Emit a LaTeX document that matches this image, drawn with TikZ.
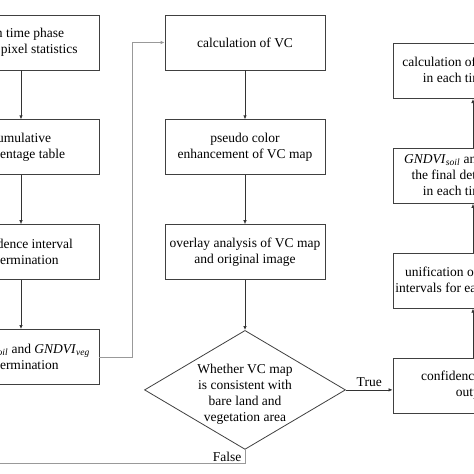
\documentclass[tikz,border=0pt]{standalone}
\usepackage{fontspec}
\setmainfont{Liberation Serif}
\usetikzlibrary{arrows.meta,positioning,shapes.geometric}

\newcommand{\gnd}[1]{\textit{GNDVI}\textsubscript{\textit{#1}}}

\begin{document}
\begin{tikzpicture}[
  x=1pt, y=-1pt,
  node distance=49pt,
  stepbox/.style={draw=black!75, line width=0.8pt, minimum width=160pt, minimum height=55pt, align=center, inner sep=1pt, font=\fontsize{13.5}{16}\selectfont},
  decision/.style={draw=black!75, line width=0.8pt, diamond, minimum width=201pt, minimum height=119pt, inner sep=0pt},
  tag/.style={font=\fontsize{13.5}{16}\selectfont},
  flow/.style={draw=black!80, line width=0.7pt, -{Latex[length=4pt,width=3.5pt]}},
  loop/.style={draw=black!40, line width=0.8pt}
]
\useasboundingbox (0,0) rectangle (474,474);
\clip (0,0) rectangle (474,474);
\fill[white] (0,0) rectangle (474,474);

% left column
\node[stepbox, minimum width=156pt] (px) at (21,42.5) {each time phase\\image pixel statistics};
\node[stepbox, minimum width=156pt, below=of px] (cum) {cumulative\\percentage table};
\node[stepbox, minimum width=156pt, below=of cum] (ci) {confidence interval\\determination};
\node[stepbox, minimum width=156pt, below=of ci] (gl) {\gnd{soil} and \gnd{veg}\\determination};

% middle column
\node[stepbox] (vc) at (245,42.5) {calculation of VC};
\node[stepbox, below=of vc] (pc) {pseudo color\\enhancement of VC map};
\node[stepbox, below=of pc] (ov) {overlay analysis of VC map\\and original image};
\node[decision, below=50pt of ov, label={[tag, align=center, yshift=-4pt]center:Whether VC map\\is consistent with\\bare land and\\vegetation area}] (chk) {};

% right column
\node[stepbox] (out) at (473,385.5) {confidence interval\\output};
\node[stepbox, above=of out] (uni) {unification of confidence\\intervals for each time phase};
\node[stepbox, above=of uni] (fin) {\gnd{soil} and \gnd{veg}\\the final determination\\in each time phase};
\node[stepbox, above=of fin] (avg) {calculation of average VC\\in each time phase};

\draw[flow] (px) -- (cum);
\draw[flow] (cum) -- (ci);
\draw[flow] (ci) -- (gl);
\draw[loop, -{Latex[length=4pt,width=3.5pt]}] (gl.east) -- ++(33,0) |- (vc.west);

\draw[flow] (vc) -- (pc);
\draw[flow] (pc) -- (ov);
\draw[flow] (ov) -- (chk);
\draw[flow] (chk.east) -- node[above, tag]{True} (chk.east -| out.west);
\coordinate (lost) at (0,463);
\draw[loop] (chk.south) |- node[pos=0.25, left, tag]{False} (lost);

\draw[flow] (out) -- (uni);
\draw[flow] (uni) -- (fin);
\draw[flow] (fin) -- (avg);

\end{tikzpicture}
\end{document}
